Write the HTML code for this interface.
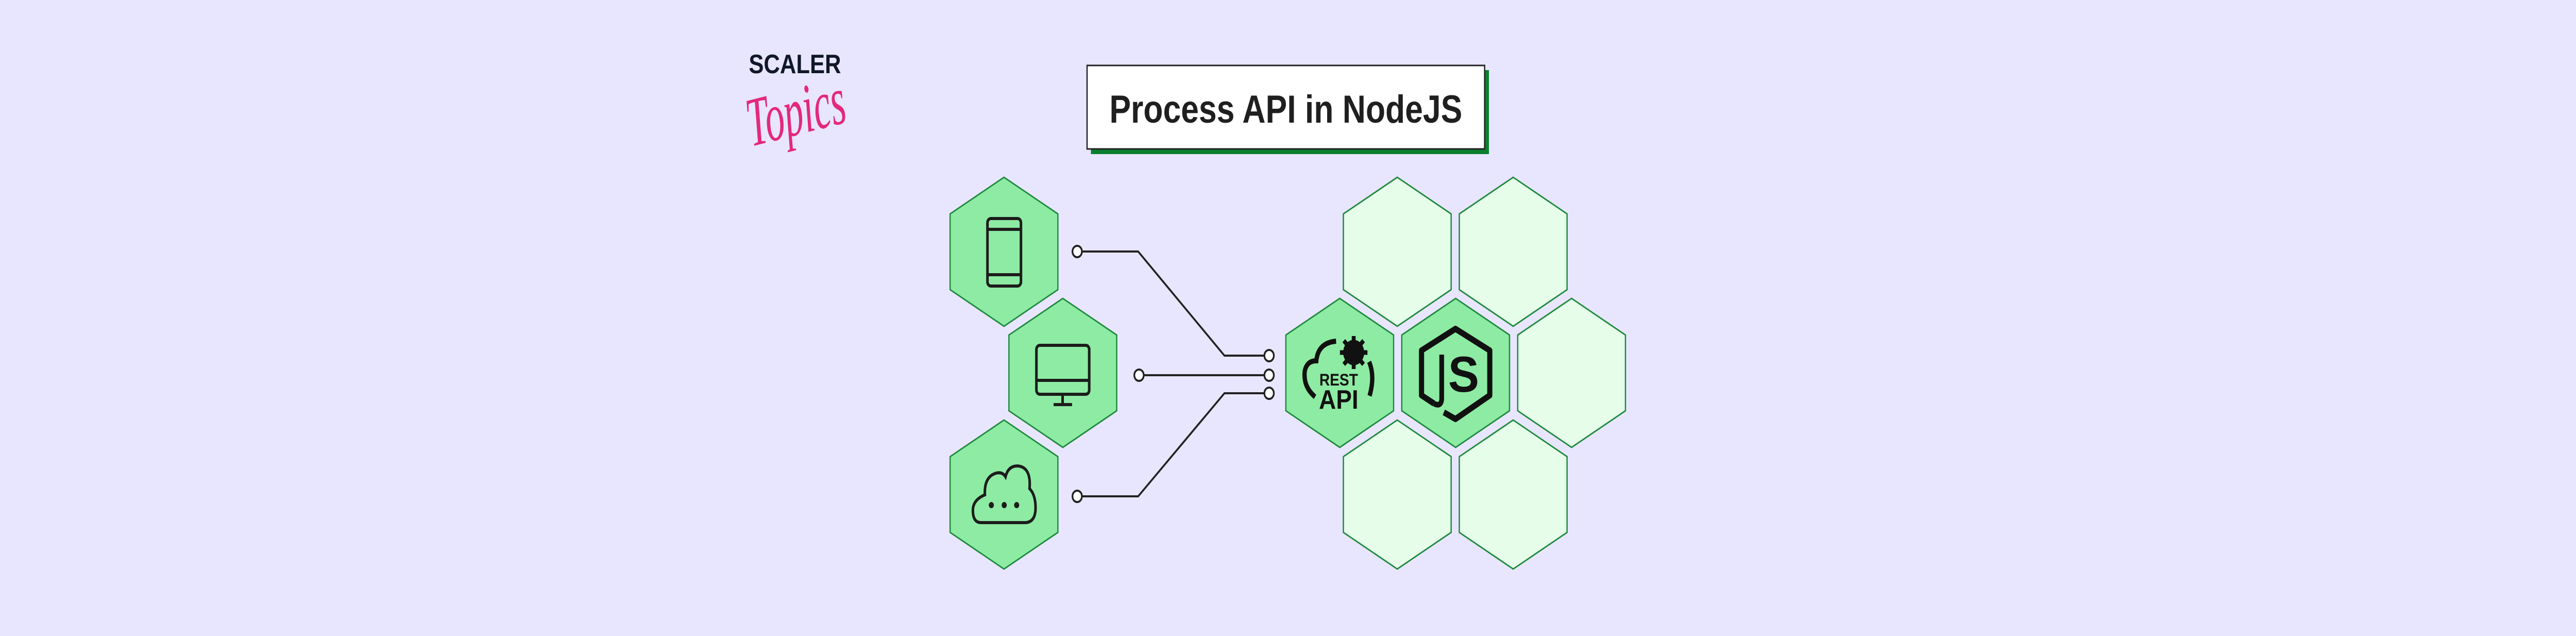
<!DOCTYPE html>
<html><head><meta charset="utf-8"><style>
html,body{margin:0;padding:0;background:#e8e6fe;width:100%;height:100%;overflow:hidden;}
svg{display:block;position:fixed;left:0;top:0;width:100vw;height:100vh;}
</style></head><body>
<svg viewBox="0 0 6000 1234" preserveAspectRatio="none" xmlns="http://www.w3.org/2000/svg">
<defs>
<polygon id="hd" points="125.5,0 251,71 251,218 125.5,289 0,218 0,71" fill="#8eeba3" stroke="#1f8a3e" stroke-width="3"/>
<polygon id="hl" points="125.5,0 251,71 251,218 125.5,289 0,218 0,71" fill="#e6fdea" stroke="#1f8a3e" stroke-width="3"/>
</defs>
<rect width="6000" height="1234" fill="#e8e6fe"/>

<text x="1744" y="142" font-family="Liberation Sans, sans-serif" font-weight="bold" font-size="52" fill="#101828" textLength="215" lengthAdjust="spacingAndGlyphs">SCALER</text>
<text x="1738" y="262" font-family="Liberation Serif, serif" font-style="italic" font-size="135" fill="#e3287e" textLength="232" lengthAdjust="spacingAndGlyphs" transform="rotate(-12 1850 220)">Topics</text>

<rect x="2541" y="136" width="927" height="163" fill="#0a7f2e"/>
<rect x="2532" y="127" width="926" height="162" fill="#fff" stroke="#222" stroke-width="3"/>
<text x="2995" y="238" text-anchor="middle" font-family="Liberation Sans, sans-serif" font-weight="bold" font-size="76" fill="#1f1f1f" textLength="822" lengthAdjust="spacingAndGlyphs">Process API in NodeJS</text>

<use href="#hd" x="2213" y="344"/>
<use href="#hd" x="2350" y="579"/>
<use href="#hd" x="2213" y="815"/>
<use href="#hl" x="3129" y="344"/>
<use href="#hl" x="3399" y="344"/>
<use href="#hd" x="2995" y="579"/>
<use href="#hd" x="3265" y="579"/>
<use href="#hl" x="3535" y="579"/>
<use href="#hl" x="3129" y="815"/>
<use href="#hl" x="3399" y="815"/>

<g fill="none" stroke="#222" stroke-width="4">
<polyline points="2520,488 2651,488 2852,690 2944,690"/>
<polyline points="2664,728 2944,728"/>
<polyline points="2520,963 2651,963 2852,763 2944,763"/>
</g>
<g fill="#fff" stroke="#222" stroke-width="4">
<circle cx="2509" cy="488" r="11"/>
<circle cx="2653" cy="728" r="11"/>
<circle cx="2509" cy="963" r="11"/>
<circle cx="2956" cy="690" r="11"/>
<circle cx="2956" cy="728" r="11"/>
<circle cx="2956" cy="763" r="11"/>
</g>

<g fill="none" stroke="#1c1c1c" stroke-width="6">
<rect x="2300" y="424" width="78" height="131" rx="8"/>
<line x1="2300" y1="445" x2="2378" y2="445"/>
<line x1="2300" y1="533" x2="2378" y2="533"/>
<rect x="2414" y="670" width="123" height="95" rx="8"/>
<line x1="2414" y1="738" x2="2537" y2="738"/>
<line x1="2475" y1="765" x2="2475" y2="785"/>
<line x1="2454" y1="785" x2="2497" y2="785"/>
<path d="M2285,1014 L2390,1014 Q2412,1012 2412,985 Q2412,960 2398,948 Q2402,906 2370,904 Q2348,904 2342,925 Q2335,915 2320,918 Q2292,925 2294,960 Q2266,970 2266,990 Q2266,1014 2285,1014 Z"/>
</g>
<g fill="#1c1c1c">
<circle cx="2309" cy="980" r="6"/><circle cx="2339" cy="980" r="6"/><circle cx="2368" cy="980" r="6"/>
</g>

<g fill="none" stroke="#111" stroke-width="10">
<path d="M3063,770 Q3035,750 3039,720 Q3044,700 3066,700 Q3070,665 3112,662"/>
<path d="M3189,702 Q3203,730 3190,768"/>
</g>
<circle cx="3153" cy="684" r="18" fill="none" stroke="#111" stroke-width="13"/>
<g stroke="#111" stroke-width="9">
<line x1="3153" y1="652" x2="3153" y2="716"/><line x1="3121" y1="684" x2="3185" y2="684"/>
<line x1="3130" y1="661" x2="3176" y2="707"/><line x1="3176" y1="661" x2="3130" y2="707"/>
</g>
<text x="3073" y="748" font-family="Liberation Sans, sans-serif" font-weight="bold" font-size="32" fill="#111" textLength="90" lengthAdjust="spacingAndGlyphs">REST</text>
<text x="3072" y="793" font-family="Liberation Sans, sans-serif" font-weight="bold" font-size="52" fill="#111" textLength="92" lengthAdjust="spacingAndGlyphs">API</text>

<path d="M3363,800 L3390,813 L3470,767 L3470,680 L3390,638 L3311,680 L3311,767 L3340,783" fill="none" stroke="#111" stroke-width="12" stroke-linejoin="round"/>
<path d="M3358,688 L3358,775 Q3356,790 3340,783" fill="none" stroke="#111" stroke-width="11"/>
<text x="3373" y="760" font-family="Liberation Sans, sans-serif" font-weight="bold" font-size="98" fill="#111" textLength="72" lengthAdjust="spacingAndGlyphs">S</text>
</svg>
</body></html>
